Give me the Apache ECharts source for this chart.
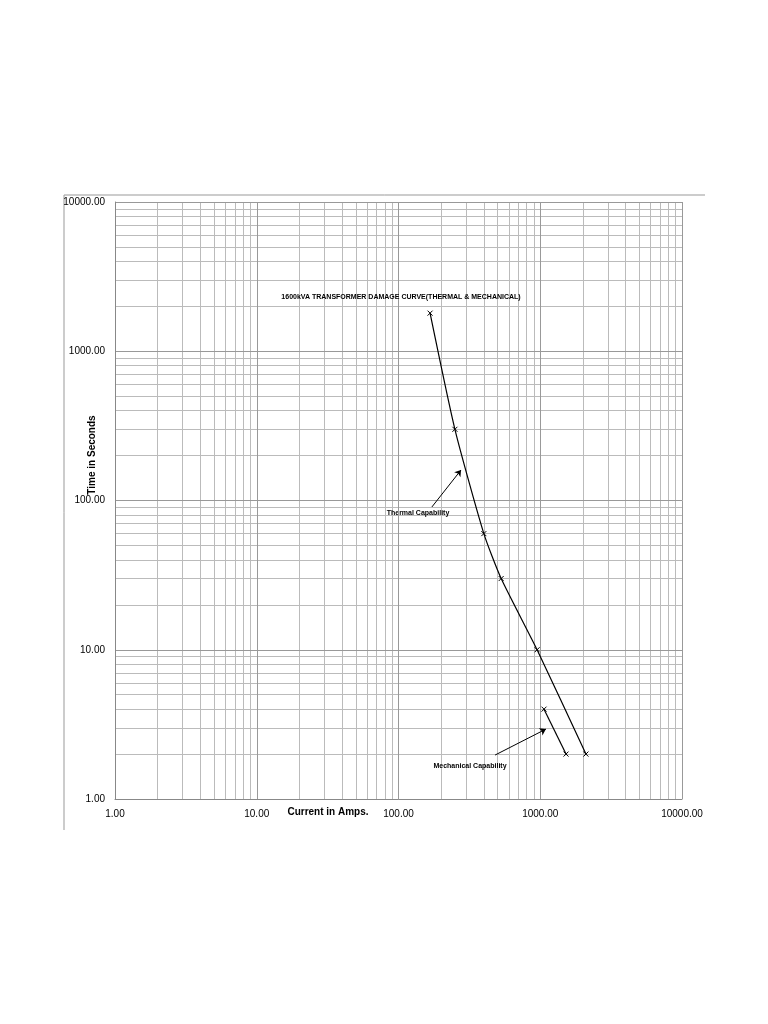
<!DOCTYPE html>
<html><head><meta charset="utf-8">
<script src="https://cdn.jsdelivr.net/npm/echarts@6/dist/echarts.min.js"></script>
<style>body{margin:0;background:#fff}#c{width:768px;height:1024px}</style></head>
<body><div id="c"></div>
<script>
const thermalX=[167,250,400,530,950,2100];
const thermalY=[1800,300,60,30,10,2];
const mechX=[1063,1520];
const mechY=[4,2];
const xTicks=[1,10,100,1000,10000];
const yTicks=[1,10,100,1000,10000];
const minorMult=[2,3,4,5,6,7,8,9];
const thermalArrow=[[172,90.5],[276,160]];
const mechArrow=[[480,1.97],[1097,2.94]];

const xMinor=[],yMinor=[];
for(let d=0;d<4;d++)for(const m of minorMult){xMinor.push(m*Math.pow(10,d));yMinor.push(m*Math.pow(10,d));}
const gridStyle={color:'#bbb',width:1,type:'solid'};
const xSym='path://M0,0L10,10M10,0L0,10';
const chart=echarts.init(document.getElementById('c'));
chart.setOption({
animation:false,
title:{text:'1600kVA TRANSFORMER DAMAGE CURVE(THERMAL & MECHANICAL)',left:396,top:289,textAlign:'center',
 textStyle:{fontSize:7,fontWeight:'bold',fontFamily:'Liberation Sans',color:'#000'}},
grid:{left:115,right:86,top:202,bottom:225},
xAxis:{type:'log',logBase:10,min:1,max:10000,
 axisLine:{lineStyle:{color:'#888'}},axisTick:{show:false},
 axisLabel:{formatter:v=>v.toFixed(2),fontSize:10,color:'#000',fontFamily:'Liberation Sans',margin:10},
 splitLine:{show:true,lineStyle:{color:'#999'}}},
yAxis:{type:'log',logBase:10,min:1,max:10000,
 axisLine:{show:true,lineStyle:{color:'#888'}},axisTick:{show:false},
 axisLabel:{formatter:v=>v.toFixed(2),fontSize:10,color:'#000',fontFamily:'Liberation Sans',margin:10},
 splitLine:{show:true,lineStyle:{color:'#999'}}},
graphic:[
 {type:'line',shape:{x1:64,y1:195,x2:705,y2:195},style:{stroke:'#999',lineWidth:1}},
 {type:'line',shape:{x1:64,y1:195,x2:64,y2:830},style:{stroke:'#999',lineWidth:1}},
 {type:'text',x:328,y:812,style:{text:'Current in Amps.',fontSize:10,fontWeight:'bold',fontFamily:'Liberation Sans',fill:'#000',align:'center',verticalAlign:'middle'}},
 {type:'text',x:92,y:455,rotation:Math.PI/2,style:{text:'Time in Seconds',fontSize:10,fontWeight:'bold',fontFamily:'Liberation Sans',fill:'#000',align:'center',verticalAlign:'middle'}},
 {type:'text',x:418,y:513,style:{text:'Thermal Capability',fontSize:7,fontWeight:'bold',fontFamily:'Liberation Sans',fill:'#000',align:'center',verticalAlign:'middle'}},
 {type:'text',x:470,y:766,style:{text:'Mechanical Capability',fontSize:7,fontWeight:'bold',fontFamily:'Liberation Sans',fill:'#000',align:'center',verticalAlign:'middle'}}
],
series:[
 {type:'line',data:thermalX.map((x,i)=>[x,thermalY[i]]),smooth:0.2,symbol:xSym,symbolSize:5,
  lineStyle:{color:'#000',width:1.2},itemStyle:{color:'none',borderColor:'#000',borderWidth:1},
  markLine:{silent:true,symbol:['none','none'],label:{show:false},lineStyle:gridStyle,z:-1,
   data:[...xMinor.map(v=>({xAxis:v})),...yMinor.map(v=>({yAxis:v}))]}},
 {type:'line',data:mechX.map((x,i)=>[x,mechY[i]]),symbol:xSym,symbolSize:5,
  lineStyle:{color:'#000',width:1.2},itemStyle:{color:'none',borderColor:'#000',borderWidth:1},
  markLine:{silent:true,symbol:['none','arrow'],symbolSize:6,label:{show:false},lineStyle:{color:'#000',width:1,type:'solid'},
   data:[[{coord:thermalArrow[0]},{coord:thermalArrow[1]}],[{coord:mechArrow[0]},{coord:mechArrow[1]}]]}}
]});
</script></body></html>
